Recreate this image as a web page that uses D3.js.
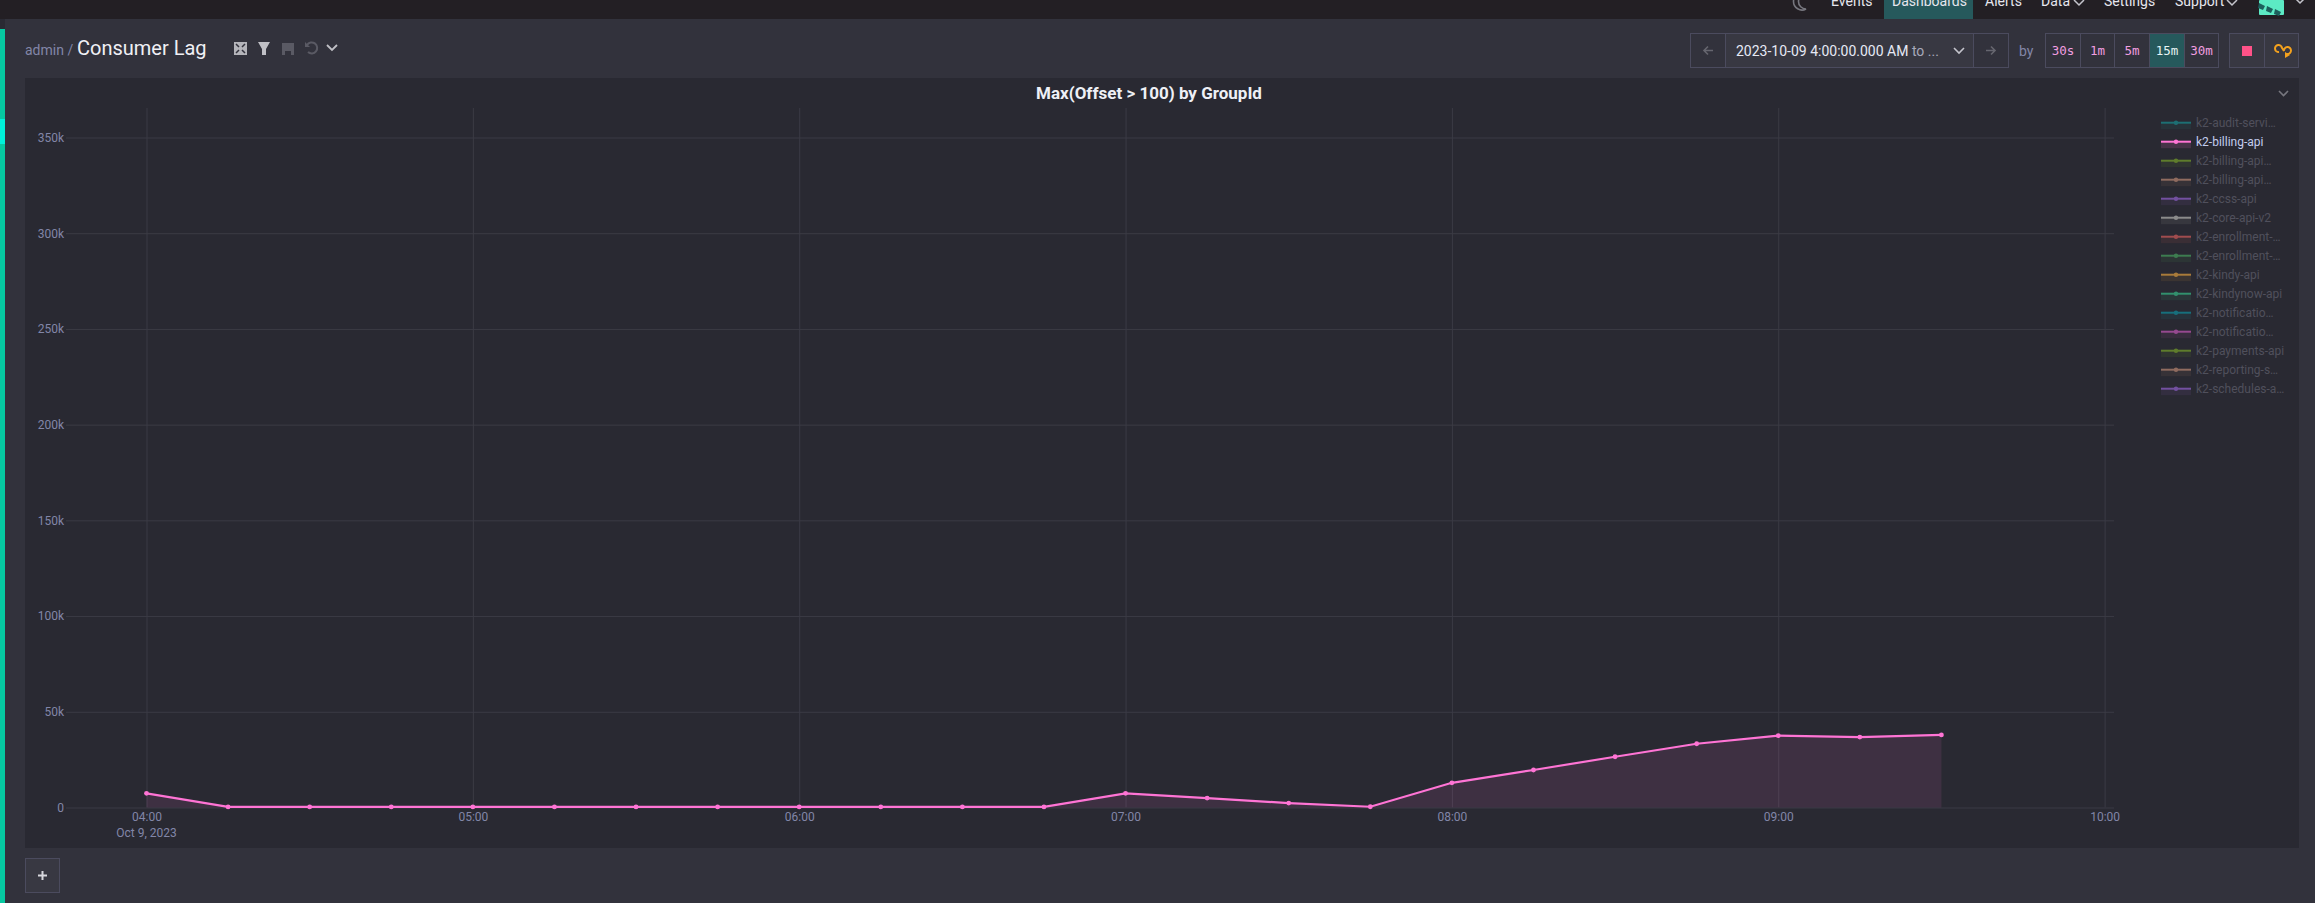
<!DOCTYPE html>
<html>
<head>
<meta charset="utf-8">
<title>Consumer Lag</title>
<script src="https://cdn.jsdelivr.net/npm/d3@7"></script>
<style>
  html, body { margin: 0; padding: 0; background: #32323c; overflow: hidden; }
  text { font-family: Roboto, sans-serif; }
  .axis path { display: none; }
  .axis line { stroke: #3b3b45; }
  .axis text { fill: #8286a8; font-size: 12px; font-family: Roboto, sans-serif; }
</style>
</head>
<body>
<div id="chart"></div>
<script>
const times = ["04:00", "04:15", "04:30", "04:45", "05:00", "05:15", "05:30", "05:45",
  "06:00", "06:15", "06:30", "06:45", "07:00", "07:15", "07:30", "07:45",
  "08:00", "08:15", "08:30", "08:45", "09:00", "09:15", "09:30"];
const billingApi = [7400, 300, 300, 300, 300, 300, 300, 300,
  300, 300, 300, 300, 7400, 4900, 2300, 400,
  12900, 19600, 26500, 33300, 37500, 36800, 37900];
const yTicks = [0, 50000, 100000, 150000, 200000, 250000, 300000, 350000];
const xTicks = ["04:00", "05:00", "06:00", "07:00", "08:00", "09:00", "10:00"];
const legendNames = ["k2-audit-servi…", "k2-billing-api", "k2-billing-api…", "k2-billing-api…",
  "k2-ccss-api", "k2-core-api-v2", "k2-enrollment-…", "k2-enrollment-…", "k2-kindy-api",
  "k2-kindynow-api", "k2-notificatio…", "k2-notificatio…", "k2-payments-api",
  "k2-reporting-s…", "k2-schedules-a…"];
const legendColors = ["#1d6f73", "#ff74d5", "#5f7d2c", "#8f6b5f", "#72509f", "#8b8b8b", "#a04c4e",
  "#3d7c50", "#a97b3a", "#32906d", "#176f7c", "#964990", "#5f7d2c", "#8f6b5f", "#72509f"];
const navItems = ["Events", "Dashboards", "Alerts", "Data", "Settings", "Support"];
const navX = [1831, 1892, 1985, 2041, 2104, 2175];
const stepLabels = ["30s", "1m", "5m", "15m", "30m"];
const stepEdges = [2045, 2080, 2114, 2149, 2184, 2218];

const parseTime = d3.timeParse("%H:%M");
const data = times.map((t, i) => ({ time: parseTime(t), value: billingApi[i] }));
const lineColor = "#ff74d5";

const svg = d3.select("#chart").append("svg")
  .attr("width", 2315)
  .attr("height", 903)
  .style("display", "block");

// page chrome
svg.append("rect").attr("width", 2315).attr("height", 903).attr("fill", "#32323c");
svg.append("rect").attr("width", 2315).attr("height", 19).attr("fill", "#231f24");
svg.append("rect").attr("y", 19).attr("width", 5).attr("height", 10).attr("fill", "#2a2a33");
svg.append("rect").attr("y", 29).attr("width", 5).attr("height", 874).attr("fill", "#06c9a1");
svg.append("rect").attr("y", 119).attr("width", 5).attr("height", 25).attr("fill", "#00f2da");
svg.append("rect").attr("x", 25).attr("y", 78).attr("width", 2274).attr("height", 770).attr("fill", "#292932");

// top nav, cut off by the top of the window
svg.append("rect").attr("x", 1884).attr("width", 89).attr("height", 19).attr("fill", "#26595c");
svg.selectAll(".nav").data(navItems).enter().append("text")
  .attr("class", "nav")
  .attr("x", (d, i) => navX[i])
  .attr("y", 6)
  .attr("fill", "#e6e6ee")
  .style("font-size", "14px")
  .text((d) => d);
svg.append("path").attr("d", "M1806 -6a8.5 8.5 0 1 0 0 15a7 7 0 0 1 0 -15")
  .attr("fill", "none").attr("stroke", "#77777f").attr("stroke-width", 1.6);
[[2079, 2], [2232, 2], [2300, 0]].forEach(([x, y]) => {
  svg.append("path").attr("d", `M${x - 5} ${y - 2}l5 5l5 -5`)
    .attr("fill", "none").attr("stroke", "#c4c4cc").attr("stroke-width", 1.5);
});
svg.append("rect").attr("x", 2259).attr("width", 25).attr("height", 15).attr("rx", 1).attr("fill", "#5ceac4");
d3.range(3).forEach((i) => {
  svg.append("path")
    .attr("d", `M${2259 + i * 8} ${3 + i * 3}l6 3l-2 4l-5 -2z`)
    .attr("fill", "#1d5f5c");
});

// breadcrumb
svg.append("text").attr("x", 25).attr("y", 55).attr("fill", "#8286a8").style("font-size", "14px").text("admin /");
svg.append("text").attr("x", 77).attr("y", 55).attr("fill", "#f0f0f5").style("font-size", "20px").text("Consumer Lag");

// toolbar icons
const icons = svg.append("g");
icons.append("path").attr("d", "M234 42h13v13h-13z").attr("fill", "#b4b4ba");
icons.append("path").attr("d", "M236 44l3 3M245 44l-3 3M236 53l3 -3M245 53l-3 -3").attr("stroke", "#32323c").attr("stroke-width", 1.5);
icons.append("path").attr("d", "M258 42h12l-4 7v6h-4v-6z").attr("fill", "#c0c0c6");
icons.append("path").attr("d", "M282 43h12v12h-3v-4h-6v4h-3z").attr("fill", "#5a5a64");
icons.append("path").attr("d", "M307 45a5.5 5.5 0 1 1 1 7").attr("fill", "none").attr("stroke", "#5a5a64").attr("stroke-width", 2);
icons.append("path").attr("d", "M305 42v5h5z").attr("fill", "#5a5a64");
icons.append("path").attr("d", "M327 45l5 5l5 -5").attr("fill", "none").attr("stroke", "#c0c0c6").attr("stroke-width", 1.8);

// time range controls
const boxStroke = "#4b4b5e";
svg.append("rect").attr("x", 1690.5).attr("y", 33.5).attr("width", 318).attr("height", 34).attr("fill", "#383842").attr("stroke", boxStroke);
svg.append("rect").attr("x", 1690.5).attr("y", 33.5).attr("width", 35).attr("height", 34).attr("fill", "#32323c").attr("stroke", boxStroke);
svg.append("rect").attr("x", 1973.5).attr("y", 33.5).attr("width", 35).attr("height", 34).attr("fill", "#32323c").attr("stroke", boxStroke);
svg.append("path").attr("d", "M1713 50.5h-9m4 -4l-4 4l4 4").attr("fill", "none").attr("stroke", "#66666f").attr("stroke-width", 1.6);
svg.append("path").attr("d", "M1986 50.5h9m-4 -4l4 4l-4 4").attr("fill", "none").attr("stroke", "#66666f").attr("stroke-width", 1.6);
svg.append("path").attr("d", "M1954 48l5 5l5 -5").attr("fill", "none").attr("stroke", "#c4c4cc").attr("stroke-width", 1.6);
svg.append("text").attr("x", 1736).attr("y", 55.5).attr("fill", "#e6e9f5").style("font-size", "14px")
  .text("2023-10-09 4:00:00.000 AM")
  .append("tspan").attr("fill", "#a7a9bb").text(" to ...");
svg.append("text").attr("x", 2019).attr("y", 55.5).attr("fill", "#8286a8").style("font-size", "14px").text("by");

stepLabels.forEach((label, i) => {
  const x0 = stepEdges[i];
  const x1 = stepEdges[i + 1];
  svg.append("rect").attr("x", x0 + 0.5).attr("y", 33.5).attr("width", x1 - x0).attr("height", 34)
    .attr("fill", label === "15m" ? "#26595c" : "#32323c").attr("stroke", boxStroke);
  svg.append("text").attr("x", (x0 + x1) / 2 + 0.5).attr("y", 55).attr("text-anchor", "middle")
    .attr("fill", label === "15m" ? "#e6f4f4" : "#f19ee0")
    .style("font-family", "'DejaVu Sans Mono', monospace").style("font-size", "12.5px")
    .text(label);
});
svg.append("rect").attr("x", 2229.5).attr("y", 33.5).attr("width", 35).attr("height", 34).attr("fill", "#383842").attr("stroke", boxStroke);
svg.append("rect").attr("x", 2264.5).attr("y", 33.5).attr("width", 34).attr("height", 34).attr("fill", "#383842").attr("stroke", boxStroke);
svg.append("rect").attr("x", 2242).attr("y", 46).attr("width", 10).attr("height", 10).attr("fill", "#ff5288");
svg.append("path").attr("d", "M2279 52a3.5 3.5 0 1 1 3 -4l2 3a3.5 3.5 0 1 1 3 3")
  .attr("fill", "none").attr("stroke", "#f5a21d").attr("stroke-width", 2);
svg.append("path").attr("d", "M2285 52v6l5 -3z").attr("fill", "#f5a21d");

// panel title
svg.append("text").attr("x", 1149).attr("y", 98.5).attr("text-anchor", "middle")
  .attr("fill", "#eef0f6").style("font-size", "17px").style("font-weight", 700)
  .text("Max(Offset > 100) by GroupId");
svg.append("path").attr("d", "M2279 91l4.5 4.5l4.5 -4.5").attr("fill", "none").attr("stroke", "#77777f").attr("stroke-width", 1.6);

// scales
const xScale = d3.scaleTime()
  .domain([parseTime("04:00"), parseTime("10:00")])
  .range([146.5, 2104.6]);
const yScale = d3.scaleLinear()
  .domain([0, 350000])
  .range([807.5, 137.5]);

// axes double as the grid
svg.append("g")
  .attr("class", "axis")
  .attr("transform", "translate(0,807.5)")
  .call(d3.axisBottom(xScale)
    .tickValues(xTicks.map(parseTime))
    .tickSize(-699.5)
    .tickPadding(5)
    .tickFormat(d3.timeFormat("%H:%M")));

svg.append("g")
  .attr("class", "axis")
  .attr("transform", "translate(66,0)")
  .call(d3.axisLeft(yScale)
    .tickValues(yTicks)
    .tickSize(-2048)
    .tickPadding(2)
    .tickFormat((d) => (d === 0 ? "0" : d / 1000 + "k")));

svg.append("text").attr("x", xScale(parseTime("04:00"))).attr("y", 837)
  .attr("text-anchor", "middle").attr("fill", "#8286a8").style("font-size", "12px")
  .text("Oct 9, 2023");

// series
const area = d3.area()
  .x((d) => xScale(d.time))
  .y0(yScale(0))
  .y1((d) => yScale(d.value));
const line = d3.line()
  .x((d) => xScale(d.time))
  .y((d) => yScale(d.value));

svg.append("path").datum(data).attr("d", area).attr("fill", lineColor).attr("fill-opacity", 0.1);
svg.append("path").datum(data).attr("d", line)
  .attr("fill", "none").attr("stroke", lineColor).attr("stroke-width", 2.2);
svg.selectAll(".dot").data(data).enter().append("circle")
  .attr("class", "dot")
  .attr("cx", (d) => xScale(d.time))
  .attr("cy", (d) => yScale(d.value))
  .attr("r", 2.4)
  .attr("fill", lineColor);

// legend
const legendY = d3.scalePoint().domain(d3.range(legendNames.length)).range([122.7, 388.7]);
const legendRow = svg.selectAll(".legend-row").data(legendNames).enter().append("g")
  .attr("class", "legend-row")
  .attr("transform", (d, i) => `translate(0,${legendY(i)})`);
legendRow.append("rect").attr("x", 2161).attr("y", 0).attr("width", 30).attr("height", 6.5)
  .attr("fill", (d, i) => legendColors[i]).attr("fill-opacity", 0.14);
legendRow.append("line").attr("x1", 2161).attr("x2", 2191)
  .attr("stroke", (d, i) => legendColors[i]).attr("stroke-width", 2);
legendRow.append("circle").attr("cx", 2176).attr("r", 2.2).attr("fill", (d, i) => legendColors[i]);
legendRow.append("text").attr("x", 2196).attr("y", 4.5)
  .attr("fill", (d, i) => (i === 1 ? "#c3cdee" : "#50505c"))
  .style("font-size", "12px")
  .text((d) => d);

// add panel button
svg.append("rect").attr("x", 25.5).attr("y", 858.5).attr("width", 34).attr("height", 34).attr("fill", "#383842").attr("stroke", boxStroke);
svg.append("path").attr("d", "M38 875.5h9M42.5 871v9").attr("stroke", "#d8d8de").attr("stroke-width", 2);
</script>
</body>
</html>
